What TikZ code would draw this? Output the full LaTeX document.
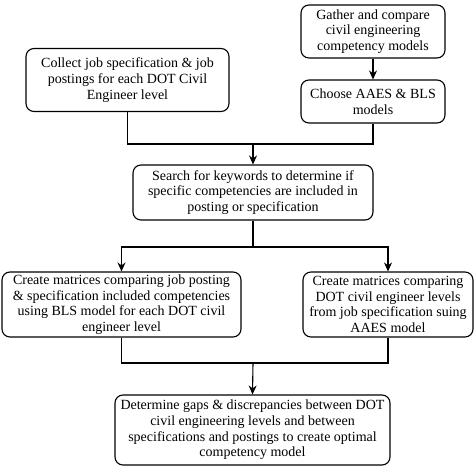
\documentclass[tikz,border=0pt]{standalone}
\usepackage{fontspec}
\setmainfont{Liberation Serif}
\usetikzlibrary{arrows.meta}
\begin{document}
\begin{tikzpicture}[x=1pt,y=-1pt,
  box/.style={draw, line width=1.1pt, rounded corners=8pt, align=center, inner sep=0pt,
    font=\fontsize{14}{15.7}\selectfont},
  conn/.style={line width=1.1pt},
  arr/.style={conn, -{Stealth[length=9pt,width=8pt]}}]
\useasboundingbox (0,0) rectangle (474,474);
\node[box, minimum width=203pt, minimum height=63pt] (A) at (127.5,80) {Collect job specification \& job\\postings for each DOT Civil\\Engineer level};
\node[box, minimum width=144pt, minimum height=53pt] (B) at (373,31.5) {Gather and compare\\civil engineering\\competency models};
\node[box, minimum width=144pt, minimum height=43pt] (C) at (373,101.5) {Choose AAES \& BLS\\models};
\node[box, minimum width=240pt, minimum height=55pt] (S) at (253,192.5) {Search for keywords to determine if\\specific competencies are included in\\posting or specification};
\node[box, minimum width=239pt, minimum height=65pt] (D) at (121.5,304.5) {Create matrices comparing job posting\\\& specification included competencies\\using BLS model for each DOT civil\\engineer level};
\node[box, minimum width=170pt, minimum height=65pt] (E) at (388,304.5) {Create matrices comparing\\DOT civil engineer levels\\from job specification suing\\AAES model};
\node[box, minimum width=275pt, minimum height=70pt] (F) at (252.5,430) {Determine gaps \& discrepancies between DOT\\civil engineering levels and between\\specifications and postings to create optimal\\competency model};
\coordinate (j1) at (253,144);
\coordinate (j2) at (253,247);
\coordinate (j3) at (253,363);
\draw[arr] (B) -- (C);
\draw[conn] (A.south) |- (j1) -| (C.south);
\draw[arr] (j1) -- (S.north);
\draw[conn] (S.south) -- (j2);
\draw[arr] (j2) -| (D.north);
\draw[arr] (j2) -| (E.north);
\draw[conn] (D.south) |- (j3) -| (E.south);
\draw[arr] (j3) -- (F.north);
\end{tikzpicture}
\end{document}
